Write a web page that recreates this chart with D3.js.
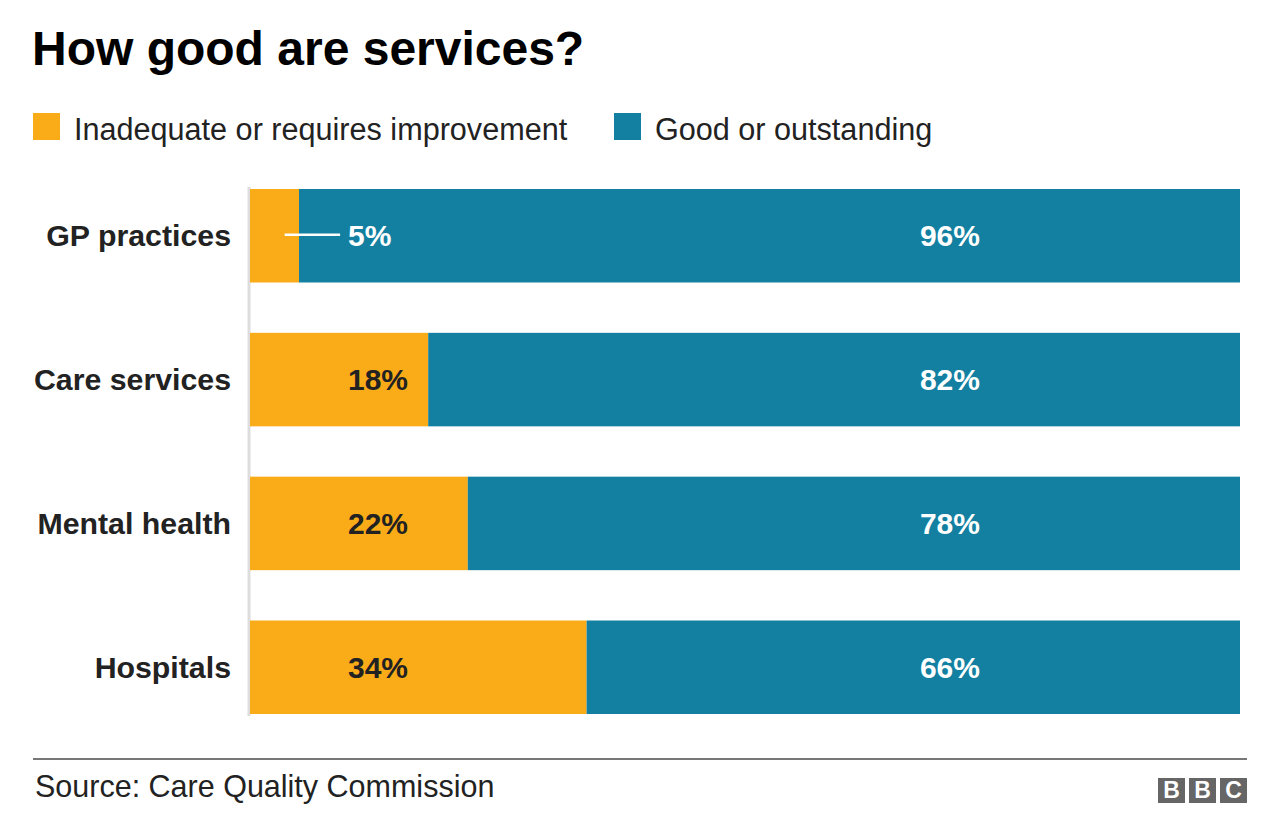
<!DOCTYPE html>
<html><head><meta charset="utf-8">
<script src="https://cdn.jsdelivr.net/npm/d3@7"></script>
<style>body{margin:0;background:#fff}svg{display:block}text{font-family:"Liberation Sans",Arial,Helvetica,sans-serif}</style>
</head><body>
<script>
const categories = ["GP practices", "Care services", "Mental health", "Hospitals"];
const inadequate = [5, 18, 22, 34];
const good = [96, 82, 78, 66];
const seriesNames = ["Inadequate or requires improvement", "Good or outstanding"];
const colors = ["#FAAB18", "#1380A1"];

const W = 1280, H = 817;
const svg = d3.select("body").append("svg").attr("width", W).attr("height", H);

svg.append("text").attr("x", 32).attr("y", 65).attr("font-size", 48).attr("font-weight", "bold")
  .attr("fill", "#000").text("How good are services?");

// legend
const legX = [33, 614];
seriesNames.forEach((n, i) => {
  svg.append("rect").attr("x", legX[i]).attr("y", 113).attr("width", 27).attr("height", 27).attr("fill", colors[i]);
  svg.append("text").attr("x", legX[i] + 41).attr("y", 140).attr("font-size", 30.6).attr("fill", "#222").text(n);
});

const x = d3.scaleLinear().domain([0, 100]).range([250, 1240]);
const y = d3.scaleBand().domain(categories).range([189, 714]).paddingInner(0.35).paddingOuter(0);

const rows = categories.map((c, i) => {
  const t = inadequate[i] + good[i];
  return {c, a: inadequate[i], b: good[i], pa: inadequate[i] / t * 100};
});

// axis line
svg.append("line").attr("x1", x(0) - 1).attr("x2", x(0) - 1).attr("y1", y.range()[0] - 2).attr("y2", y.range()[1] + 2)
  .attr("stroke", "#dddddd").attr("stroke-width", 3);

const g = svg.append("g");
g.selectAll("rect.a").data(rows).join("rect").attr("class", "a")
  .attr("x", x(0)).attr("y", d => y(d.c)).attr("width", d => x(d.pa) - x(0)).attr("height", y.bandwidth()).attr("fill", colors[0]);
g.selectAll("rect.b").data(rows).join("rect").attr("class", "b")
  .attr("x", d => x(d.pa)).attr("y", d => y(d.c)).attr("width", d => x(100) - x(d.pa)).attr("height", y.bandwidth()).attr("fill", colors[1]);

// category labels
g.selectAll("text.cat").data(rows).join("text").attr("class", "cat")
  .attr("x", 231).attr("y", d => y(d.c) + y.bandwidth() / 2).attr("dy", "0.35em")
  .attr("text-anchor", "end").attr("font-size", 30.3).attr("font-weight", "bold").attr("fill", "#222").text(d => d.c);

// value labels
g.selectAll("text.va").data(rows).join("text").attr("class", "va")
  .attr("x", x(10) - 1).attr("y", d => y(d.c) + y.bandwidth() / 2).attr("dy", "0.35em")
  .attr("font-size", 30).attr("font-weight", "bold")
  .attr("fill", d => x(d.pa) < x(10) ? "#fff" : "#222").text(d => d.a + "%");
g.selectAll("line.lead").data(rows.filter(d => x(d.pa) < x(10))).join("line").attr("class", "lead")
  .attr("x1", x(3.5)).attr("x2", x(9.1)).attr("y1", d => y(d.c) + y.bandwidth() / 2 - 1).attr("y2", d => y(d.c) + y.bandwidth() / 2 - 1)
  .attr("stroke", "#fff").attr("stroke-width", 2.5);
g.selectAll("text.vb").data(rows).join("text").attr("class", "vb")
  .attr("x", x(70.7)).attr("y", d => y(d.c) + y.bandwidth() / 2).attr("dy", "0.35em")
  .attr("text-anchor", "middle").attr("font-size", 30).attr("font-weight", "bold").attr("fill", "#fff").text(d => d.b + "%");

// footer
svg.append("line").attr("x1", 33).attr("x2", 1247).attr("y1", 759).attr("y2", 759).attr("stroke", "#777").attr("stroke-width", 2);
svg.append("text").attr("x", 35).attr("y", 797).attr("font-size", 30.5).attr("fill", "#222").text("Source: Care Quality Commission");

const logo = svg.append("g");
["B", "B", "C"].forEach((ch, i) => {
  const bx = 1158 + i * 31;
  logo.append("rect").attr("x", bx).attr("y", 778).attr("width", 27).attr("height", 25).attr("fill", "#666");
  logo.append("text").attr("x", bx + 13.5).attr("y", 798).attr("text-anchor", "middle").attr("font-size", 23)
    .attr("font-weight", "bold").attr("fill", "#fff").text(ch);
});
</script>
</body></html>
